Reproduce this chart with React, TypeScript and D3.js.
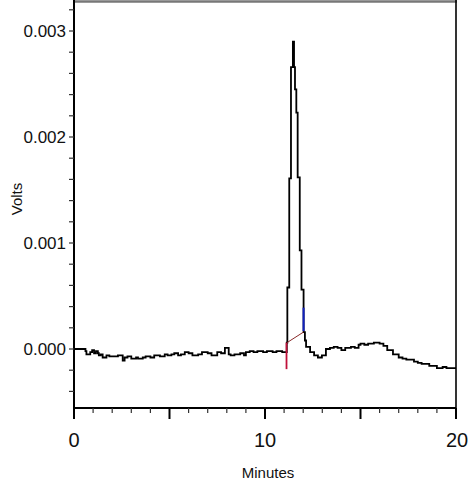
import React from "react";
import * as d3 from "d3";

// Chromatogram trace: time (minutes) and detector signal (volts)
const times: number[] = [
  0.0, 0.6, 0.65, 0.85, 0.95, 1.05, 1.15, 1.25, 1.3, 1.4, 1.5, 1.7, 1.85, 2.05, 2.3, 2.55, 2.65, 2.8, 3.0, 3.25, 3.35, 3.6, 3.75, 4.0,
  4.2, 4.5, 4.75, 4.9, 5.1, 5.25, 5.45, 5.6, 5.8, 6.0, 6.2, 6.5, 6.7, 7.0, 7.2, 7.5, 7.7, 7.9, 8.1, 8.2, 8.4, 8.7, 8.9, 9.0,
  9.2, 9.4, 9.6, 9.9, 10.1, 10.4, 10.6, 10.9, 11.1,
  11.14, 11.17, 11.27, 11.36, 11.46, 11.52, 11.57, 11.64, 11.71, 11.82, 11.91, 12.02, 12.09, 12.15,
  12.36, 12.57, 12.77, 12.98, 13.19, 13.4, 13.6, 13.8, 14.0, 14.2, 14.5, 14.7, 14.9, 15.0, 15.2, 15.4, 15.7, 16.0, 16.2, 16.4,
  16.7, 17.0, 17.2, 17.4, 17.8, 18.0, 18.2, 18.6, 19.0, 19.3, 19.5, 20.0,
];
const volts: number[] = [
  0.0, -0.00002, -0.00005, -0.00003, -0.00001, -0.00004, -0.00002, -0.00004, -0.00006, -0.00005, -0.00008, -0.00006, -0.00007, -0.00007,
  -0.00006, -0.00011, -0.00008, -0.00007, -0.00009, -0.00008, -0.00009, -0.00008, -0.00007, -0.00008,
  -0.00006, -0.00007, -0.00005, -0.00006, -0.00005, -0.00004, -0.00006, -0.00005, -0.00003, -0.00004, -0.00006, -0.00005, -0.00003,
  -0.00004, -0.00006, -0.00003, -0.00004, 0.00001, -0.00005, -0.00006, -0.00005, -0.00004, -0.00006, -0.00003,
  -0.00002, -0.00003, -0.00002, -0.00003, -0.00002, -0.00003, -0.00002, -0.00003, -0.00003,
  0.00006, 0.00058, 0.00161, 0.00266, 0.0029, 0.00266, 0.00245, 0.00223, 0.00162, 0.00093, 0.00056, 0.00016,
  0.00008, 0.00002, -0.00003, -0.00006, -0.00008, -0.00006, 0.0, 0.00001, 0.00002, 0.00001, -0.00001, 0.00001,
  0.00002, 0.00001, 0.00004, 0.00005, 0.00004, 0.00005, 0.00006, 0.00005, 0.00003, -0.00001, -0.00005, -0.00008, -0.00009,
  -0.0001, -0.00012, -0.00013, -0.00014, -0.00016, -0.00018, -0.00017, -0.00018, -0.00018,
];

// Integration markers
const peakStart = { t: 11.1, v: 0.00006 };
const peakEnd = { t: 12.02, v: 0.00016 };

const yTicksMajor: number[] = [0.0, 0.001, 0.002, 0.003];
const yTickLabels: string[] = ["0.000", "0.001", "0.002", "0.003"];
const yTicksMinor: number[] = [-0.0004, -0.0002, 0.0002, 0.0004, 0.0006, 0.0008, 0.0012, 0.0014, 0.0016, 0.0018, 0.0022, 0.0024, 0.0026, 0.0028, 0.0032];
const xTicksMajor: number[] = [0, 5, 10, 15, 20];
const xTickLabels: number[] = [0, 10, 20];

export default function App() {
  const W = 474, H = 485;
  const left = 74, right = 456, top = 1.5, bottom = 408;
  const x = d3.scaleLinear().domain([0, 20]).range([left, right]);
  const y = d3.scaleLinear().domain([0, 0.003]).range([349, 31]);

  const data = times.map((t, i) => [t, volts[i]] as [number, number]);
  const line = d3
    .line<[number, number]>()
    .x((d) => x(d[0]))
    .y((d) => y(d[1]))
    .curve(d3.curveStepAfter);

  const xMinor = d3.range(0, 21, 1).filter((v) => v % 5 !== 0);
  const font = "'Liberation Sans', Arial, sans-serif";

  return (
    <svg width={W} height={H} style={{ position: "absolute", left: 0, top: 0, background: "#fff" }}>
      <rect x={0} y={0} width={W} height={H} fill="#fff" />
      {/* frame */}
      <line x1={left} x2={right + 1} y1={top} y2={top} stroke="#777" strokeWidth={2.5} />
      <line x1={right} x2={right} y1={0} y2={bottom + 11} stroke="#000" strokeWidth={1.6} />
      <line x1={left} x2={left} y1={0} y2={bottom + 11} stroke="#000" strokeWidth={2} />
      <line x1={left} x2={right} y1={bottom} y2={bottom} stroke="#000" strokeWidth={2} />

      {/* y ticks */}
      {yTicksMajor.concat(yTicksMinor).map((v, i) => (
        <line key={"yt" + i} x1={left - 5} x2={left} y1={y(v)} y2={y(v)} stroke="#333" strokeWidth={1.2} />
      ))}
      {yTicksMajor.map((v, i) => (
        <text key={"yl" + i} x={66} y={y(v) + 6} textAnchor="end" fontFamily={font} fontSize={17} fill="#111">
          {yTickLabels[i]}
        </text>
      ))}

      {/* x ticks */}
      {xMinor.map((v) => (
        <line key={"xm" + v} x1={x(v)} x2={x(v)} y1={bottom} y2={bottom + 5} stroke="#333" strokeWidth={1.2} />
      ))}
      {xTicksMajor.map((v) => (
        <line key={"xM" + v} x1={x(v)} x2={x(v)} y1={bottom} y2={bottom + 11} stroke="#000" strokeWidth={2} />
      ))}
      {xTickLabels.map((v) => (
        <text key={"xl" + v} x={x(v) + (v === 20 ? 1 : 0)} y={447} textAnchor="middle" fontFamily={font} fontSize={20} fill="#111">
          {v}
        </text>
      ))}

      {/* axis titles */}
      <text x={268} y={478} textAnchor="middle" fontFamily={font} fontSize={15} fill="#111">
        Minutes
      </text>
      <text
        transform={`translate(22,199) rotate(-90)`}
        textAnchor="middle"
        fontFamily={font}
        fontSize={15}
        fill="#111"
      >
        Volts
      </text>

      {/* trace */}
      <path d={line(data) ?? ""} fill="none" stroke="#000" strokeWidth={1.8} strokeLinejoin="miter" />

      {/* integration baseline */}
      <line x1={x(peakStart.t) + 1} y1={y(peakStart.v)} x2={x(peakEnd.t)} y2={y(peakEnd.v)} stroke="#8a2a2a" strokeWidth={1} />
      {/* peak start marker */}
      <line x1={x(peakStart.t) + 0.5} x2={x(peakStart.t) + 0.5} y1={y(peakStart.v)} y2={y(-0.00019)} stroke="#c0103a" strokeWidth={1.8} />
      {/* peak end marker */}
      <line x1={x(peakEnd.t)} x2={x(peakEnd.t)} y1={y(peakEnd.v) - 1} y2={y(0.00039)} stroke="#1020c0" strokeWidth={2} />
    </svg>
  );
}
